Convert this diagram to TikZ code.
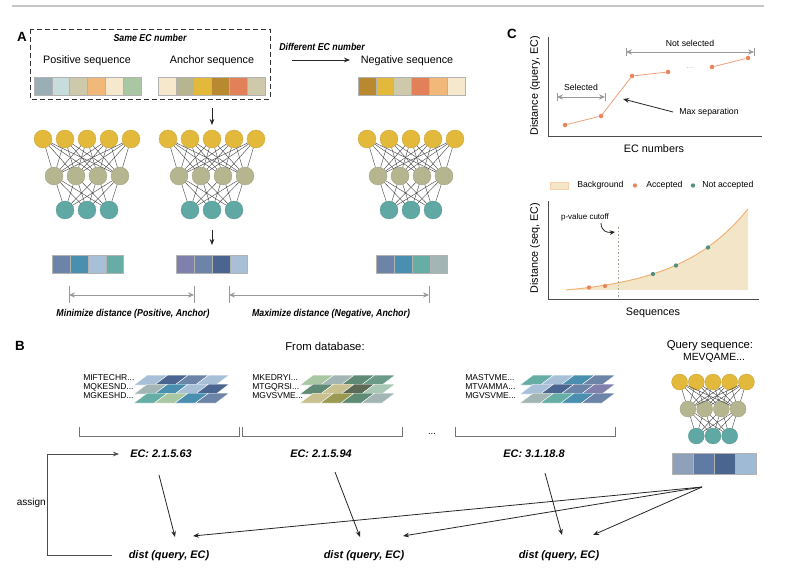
\documentclass[tikz,border=0pt]{standalone}
\usepackage{fontspec}
\setmainfont{Liberation Sans}
\setsansfont{Liberation Sans}
\newfontfamily\condf[FakeStretch=0.88]{Liberation Sans}
\usetikzlibrary{arrows.meta}
\newcommand{\myfs}[1]{\fontsize{#1pt}{#1pt}\selectfont}
\definecolor{cGB}{HTML}{9AAFB5}
\definecolor{cLB}{HTML}{C8DCDD}
\definecolor{cBe}{HTML}{CFC9AC}
\definecolor{cOL}{HTML}{F2B87A}
\definecolor{cCr}{HTML}{F5E8CC}
\definecolor{cGL}{HTML}{A8C7A2}
\definecolor{cOv}{HTML}{B5B58F}
\definecolor{cYe}{HTML}{E3B93C}
\definecolor{cGo}{HTML}{B8892E}
\definecolor{cOR}{HTML}{E2805A}
\definecolor{bSl}{HTML}{6B84A8}
\definecolor{bBl}{HTML}{4A8FB0}
\definecolor{bLt}{HTML}{A8BFD8}
\definecolor{bTe}{HTML}{66ADA5}
\definecolor{bPu}{HTML}{8080AC}
\definecolor{bDk}{HTML}{4A6590}
\definecolor{bGr}{HTML}{A4B5B5}
\definecolor{gDk}{HTML}{5F8A73}
\definecolor{gMd}{HTML}{6B9A88}
\definecolor{gKh}{HTML}{C9C090}
\definecolor{gOl}{HTML}{5D6A55}
\definecolor{gLg}{HTML}{A8C7B5}
\definecolor{gOv}{HTML}{9A9A55}
\definecolor{qA}{HTML}{8FA0BB}
\definecolor{qB}{HTML}{5F7AA5}
\definecolor{qD}{HTML}{9FBAD5}
\definecolor{nYe}{HTML}{E3B93C}
\definecolor{nOl}{HTML}{B5B58F}
\definecolor{nTe}{HTML}{5FA8A3}
\definecolor{cDot}{HTML}{E8855A}
\definecolor{cLine}{HTML}{F0A07A}
\definecolor{cNA}{HTML}{4F8F7F}
\definecolor{cBg}{HTML}{F3E5C8}
\definecolor{cCurve}{HTML}{F0B070}
\definecolor{cCut}{HTML}{9AAA90}
\newcommand{\nnet}[7]{%
  \foreach \i in {1,...,5} \node[neur, fill=nYe, draw=nYe!85!black, minimum size={#7*1.5pt}] (#1t\i) at ({#2+(\i-3)*#6},#3) {};
  \foreach \i in {1,...,4} \node[neur, fill=nOl, draw=nOl!85!black, minimum size={#7*1.5pt}] (#1m\i) at ({#2+(\i-2.5)*#6},#4) {};
  \foreach \i in {1,...,3} \node[neur, fill=nTe, draw=nTe!85!black, minimum size={#7*1.5pt}] (#1b\i) at ({#2+(\i-2)*#6},#5) {};
  \foreach \i in {1,...,5} \foreach \j in {1,...,4} \draw[nlink] (#1t\i) -- (#1m\j);
  \foreach \i in {1,...,4} \foreach \j in {1,...,3} \draw[nlink] (#1m\i) -- (#1b\j);
}
\newcommand{\sbar}[5]{%
  \foreach \c [count=\k from 0] in {#5} \filldraw[fill=\c, draw=black!30, line width=0.25pt] ({#1+\k*#3},#2) rectangle ++(#3,#4);
}
\newcommand{\prow}[3]{%
  \foreach \c [count=\k from 0] in {#3} \filldraw[fill=\c, draw=white, line width=0.3pt] ({#1+\k*20.5},#2) -- ({#1+(\k+1)*20.5},#2) -- ({#1+(\k+1)*20.5+13},{#2-9.8}) -- ({#1+\k*20.5+13},{#2-9.8}) -- cycle;
}
\begin{document}
\begin{tikzpicture}[x=0.75pt,y=-0.75pt,
  txt/.style={inner sep=0pt, font=\myfs{8.1}},
  bic/.style={inner sep=0pt, font={\condf\bfseries\itshape\myfs{7.5}}},
  bib/.style={inner sep=0pt, font={\bfseries\itshape\myfs{8.2}}},
  plab/.style={inner sep=0pt, font={\bfseries\myfs{10}}},
  seqt/.style={inner sep=0pt, anchor=west, font=\myfs{6.4}},
  small/.style={inner sep=0pt, font=\myfs{6.5}},
  neur/.style={circle, inner sep=0pt, line width=0.2pt},
  nlink/.style={draw=black!75, line width=0.3pt},
  blk/.style={draw=black!85, line width=0.6pt, -{Stealth[length=4.5pt,width=3.5pt]}},
  garr/.style={draw=black!40, line width=0.7pt, {Stealth[length=4.5pt,width=4pt]}-{Stealth[length=4.5pt,width=4pt]}},
  gtick/.style={draw=black!40, line width=0.7pt},
  axisl/.style={draw=black!70, line width=0.7pt},
  brk/.style={draw=black!55, line width=0.7pt},
  odot/.style={circle, fill=cDot, inner sep=0pt, minimum size=3.4pt},
  ndot/.style={circle, fill=cNA, inner sep=0pt, minimum size=3.2pt},
  adot/.style={circle, fill=cDot, inner sep=0pt, minimum size=3.2pt}
]
\useasboundingbox (0,0) rectangle (806,573);
\fill[white] (0,0) rectangle (806,573);
% top rule
\draw[draw=black!22, line width=1.4pt] (12,6) -- (764,6);

% ================= Panel A =================
\node[plab] (labA) at (22,37) {A};
\draw[draw=black!80, line width=0.7pt, dash pattern=on 3.5pt off 2.5pt] (30,29) rectangle (270,99);
\node[bic] (same) at (150,38) {Same EC number};
\node[bic] (diff) at (322,47) {Different EC number};
\coordinate (da1) at (292,60);
\coordinate (da2) at (350,60);
\draw[blk] (da1) -- (da2);
\node[txt] (pos) at (87,61) {Positive sequence};
\node[txt] (anc) at (212,61) {Anchor sequence};
\node[txt] (neg) at (407,61) {Negative sequence};
\sbar{34}{77}{17.83}{18}{cGB,cLB,cBe,cOL,cCr,cGL}
\sbar{158}{77}{17.83}{18}{cCr,cOv,cYe,cGo,cOR,cBe}
\sbar{358}{77}{17.83}{18}{cGo,cYe,cBe,cOR,cOL,cCr}
\coordinate (dn1a) at (212,108);
\coordinate (dn1b) at (212,125);
\draw[blk] (dn1a) -- (dn1b);
\nnet{na}{87}{139}{176}{210}{22}{9}
\nnet{nb}{212}{139}{176}{210}{22}{9}
\nnet{nc}{411}{139}{176}{210}{22}{9}
\coordinate (dn2a) at (212,230);
\coordinate (dn2b) at (212,245);
\draw[blk] (dn2a) -- (dn2b);
\sbar{52}{255}{17.9}{18}{bSl,bBl,bLt,bTe}
\sbar{176}{255}{17.9}{18}{bPu,bSl,bDk,bLt}
\sbar{376}{255}{17.9}{18}{bSl,bBl,bTe,bGr}
\coordinate (m1) at (69,295);
\coordinate (m2) at (194,295);
\coordinate (x1) at (229,295);
\coordinate (x2) at (429,295);
\draw[gtick] (69,286) -- (69,303);
\draw[gtick] (194,286) -- (194,303);
\draw[gtick] (229,286) -- (229,303);
\draw[gtick] (429,286) -- (429,303);
\draw[garr] (m1) -- (m2);
\draw[garr] (x1) -- (x2);
\node[bic] (mind) at (133,314) {Minimize distance (Positive, Anchor)};
\node[bic] (maxd) at (331,314) {Maximize distance (Negative, Anchor)};

% ================= Panel C =================
\node[plab] (labC) at (512,34) {C};
\draw[axisl] (548,37) -- (548,136) -- (762,136);
\node[txt, rotate=90] (cy1) at (535,86) {Distance (query, EC)};
\node[txt] (cx1) at (654,149) {EC numbers};
\node[odot] (p1) at (565,125) {};
\node[odot] (p2) at (601,116) {};
\node[odot] (p3) at (632,76) {};
\node[odot] (p4) at (668,72) {};
\node[odot] (p5) at (712,67) {};
\node[odot] (p6) at (748,58) {};
\draw[draw=cLine, line width=0.6pt] (p1) -- (p2) -- (p3) -- (p4);
\draw[draw=cLine, line width=0.6pt] (p5) -- (p6);
\node[inner sep=0pt, font=\myfs{6}, text=cLine] (dots1) at (690,68) {...};
\node[small] (sel) at (581,87) {Selected};
\draw[gtick] (557,93) -- (557,101);
\draw[gtick] (605,93) -- (605,101);
\coordinate (s1) at (557,97);
\coordinate (s2) at (605,97);
\draw[garr] (s1) -- (s2);
\node[small] (nsel) at (690,43) {Not selected};
\draw[gtick] (626,48) -- (626,56);
\draw[gtick] (754,48) -- (754,56);
\coordinate (ns1) at (626,52);
\coordinate (ns2) at (754,52);
\draw[garr] (ns1) -- (ns2);
\node[small] (msep) at (709,112) {Max separation};
\coordinate (ms1) at (673,112);
\coordinate (ms2) at (623,99);
\draw[blk] (ms1) -- (ms2);

% lower C
\filldraw[fill=cBg, draw=cCurve!60, line width=0.3pt] (550,182) rectangle (568,189);
\node[small, anchor=west] (lbg) at (577,185.5) {Background};
\node[adot] (lacc) at (635,185.5) {};
\node[small, anchor=west] (lacct) at (646,185.5) {Accepted};
\node[ndot] (lna) at (693,185.5) {};
\node[small, anchor=west] (lnat) at (702,185.5) {Not accepted};
\fill[cBg] (566,290) -- plot[domain=0:182,samples=60] ({566+\x},{290-6.5*(exp(0.0143*\x)-1)}) -- (748,290) -- cycle;
\draw[draw=cCurve, line width=0.7pt] plot[domain=0:182,samples=60] ({566+\x},{290-6.5*(exp(0.0143*\x)-1)});
\draw[axisl] (548,201) -- (548,299) -- (759,299);
\draw[draw=cCut, line width=0.6pt, dash pattern=on 1.2pt off 1.5pt] (618,227) -- (618,298);
\node[txt, rotate=90] (cy2) at (535,248) {Distance (seq, EC)};
\node[txt] (cx2) at (653,313) {Sequences};
\node[adot] (a1) at (589,287.5) {};
\node[adot] (a2) at (605,286) {};
\node[ndot] (q1) at (653,274) {};
\node[ndot] (q2) at (676,265.5) {};
\node[ndot] (q3) at (708,247.5) {};
\node[inner sep=0pt, font=\myfs{6}] (pcut) at (585,217) {p-value cutoff};
\coordinate (pc1) at (601,223);
\coordinate (pc2) at (615,232);
\draw[draw=black!85, line width=0.6pt, -{Stealth[length=4pt,width=3.5pt]}] (pc1) .. controls (601,231) and (607,233) .. (pc2);

% ================= Panel B =================
\node[plab] (labB) at (20,346) {B};
\node[inner sep=0pt, font=\myfs{8.5}] (fromdb) at (325,346) {From database:};
\node[seqt] (s11) at (83,378) {MIFTECHR...};
\node[seqt] (s12) at (83,387) {MQKESND...};
\node[seqt] (s13) at (83,396) {MGKESHD...};
\prow{134}{385}{bLt,bDk,bSl,bLt}
\prow{134}{394}{bGr,bBl,bLt,bDk}
\prow{134}{403}{bTe,cGL,bBl,bSl}
\node[seqt] (s21) at (252,378) {MKEDRYI...};
\node[seqt] (s22) at (252,387) {MTGQRSI...};
\node[seqt] (s23) at (252,396) {MGVSVME...};
\prow{300}{385}{cGL,bGr,gDk,gMd}
\prow{300}{394}{gDk,gKh,gOl,gLg}
\prow{300}{403}{gKh,gOv,gDk,bGr}
\node[seqt] (s31) at (465,378) {MASTVME...};
\node[seqt] (s32) at (465,387) {MTVAMMA...};
\node[seqt] (s33) at (465,396) {MGVSVME...};
\prow{520}{385}{bTe,bLt,bBl,bSl}
\prow{520}{394}{bLt,bDk,bSl,bPu}
\prow{520}{403}{bGr,bTe,bBl,bSl}
\draw[brk] (79,427) -- (79,436) -- (239,436) -- (239,427);
\draw[brk] (242,427) -- (242,436) -- (402,436) -- (402,427);
\draw[brk] (455,427) -- (455,436) -- (615,436) -- (615,427);
\node[inner sep=0pt, font=\myfs{7}] (bdots) at (432,434) {...};

\node[inner sep=0pt, font=\myfs{8.5}] (qs) at (710,346) {Query sequence:};
\node[inner sep=0pt, font=\myfs{7.8}] (qseq) at (714,357.5) {MEVQAME...};
\nnet{nq}{713}{382}{409}{436}{16.7}{8}
\sbar{672}{453}{21}{21}{qA,qB,bDk,qD}

\node[bib] (ec1) at (161,454) {EC: 2.1.5.63};
\node[bib] (ec2) at (321,454) {EC: 2.1.5.94};
\node[bib] (ec3) at (534,454) {EC: 3.1.18.8};
\node[bib] (d1) at (169,556) {dist (query, EC)};
\node[bib] (d2) at (364,556) {dist (query, EC)};
\node[bib] (d3) at (559,556) {dist (query, EC)};
\coordinate (e1s) at (159,475);
\coordinate (e1e) at (175,537);
\coordinate (e2s) at (335,472);
\coordinate (e2e) at (360,537);
\coordinate (e3s) at (545,473);
\coordinate (e3e) at (562,535);
\draw[blk] (e1s) -- (e1e);
\draw[blk] (e2s) -- (e2e);
\draw[blk] (e3s) -- (e3e);
\coordinate (qsrc) at (702,487);
\coordinate (t1) at (193,536);
\coordinate (t2) at (403,536);
\coordinate (t3) at (593,535);
\draw[blk] (qsrc) -- (t1);
\draw[blk] (qsrc) -- (t2);
\draw[blk] (qsrc) -- (t3);
\coordinate (as1) at (112,555);
\coordinate (as2) at (47,555);
\coordinate (as3) at (47,454);
\coordinate (as4) at (119,454);
\draw[draw=black!70, line width=0.6pt, -{Stealth[length=4.5pt,width=3.5pt]}] (as1) -- (as2) -- (as3) -- (as4);
\node[inner sep=0pt, anchor=east, font=\myfs{7.5}] (assign) at (46,503) {assign};
\end{tikzpicture}
\end{document}
